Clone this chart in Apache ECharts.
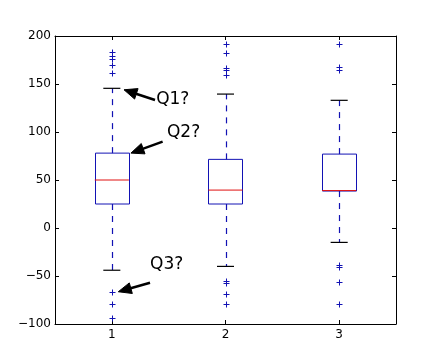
<!DOCTYPE html>
<html>
<head>
<meta charset="utf-8">
<script src="https://cdn.jsdelivr.net/npm/echarts@6/dist/echarts.min.js"></script>
<style>html,body{margin:0;padding:0;background:#fff;}#c{width:440px;height:360px;}</style>
</head>
<body>
<div id="c"></div>
<script>
var categories = [1, 2, 3];
var lowWhisker = [-44, -40, -15];
var q1 = [25, 25, 38.5];
var median = [50, 39.5, 39];
var q3 = [78, 71.5, 77];
var highWhisker = [145.5, 139.5, 133];
var outliers1 = [183, 179, 176, 170, 161, -67, -79.5, -93.5];
var outliers2 = [192, 182, 167, 164.5, 159, -55, -57.5, -69, -79.5];
var outliers3 = [192, 167.5, 165, -39, -41, -56, -79.5];
var yTicks = [-100, -50, 0, 50, 100, 150, 200];
var annotations = [
  {text: 'Q1?', tip: [1.107, 144], tail: [1.38, 133.3], label: [1.39, 133.3]},
  {text: 'Q2?', tip: [1.168, 78], tail: [1.447, 90], label: [1.485, 99]},
  {text: 'Q3?', tip: [1.057, -66.4], tail: [1.336, -57], label: [1.336, -38.5]}
];

var boxData = categories.map(function (c, i) {
  return [c, lowWhisker[i], q1[i], median[i], q3[i], highWhisker[i]];
});
var outlierData = [];
[outliers1, outliers2, outliers3].forEach(function (arr, i) {
  arr.forEach(function (v) { outlierData.push([categories[i], v]); });
});
var annData = annotations.map(function (a) {
  return [a.tip[0], a.tip[1], a.tail[0], a.tail[1], a.label[0], a.label[1], a.text];
});

var BLUE = '#1212b4';
var RED = '#e01010';
var HALF_BOX = 0.15, HALF_CAP = 0.075;

var chart = echarts.init(document.getElementById('c'), null, {renderer: 'canvas'});
var fmt = function (v) { return String(v).replace('-', '\u2212'); };
var axFont = {color: '#000', fontFamily: 'DejaVu Sans', fontSize: 12};
chart.setOption({
  animation: false,
  backgroundColor: '#fff',
  grid: {left: 55, right: 44, top: 36, bottom: 36, containLabel: false},
  xAxis: [{
    type: 'value', min: 0.5, max: 3.5, interval: 0.5, position: 'bottom',
    axisLine: {show: true, onZero: false, lineStyle: {color: '#000', width: 1}},
    axisTick: {show: true, inside: true, length: 4, lineStyle: {color: '#000'},
      customValues: categories},
    axisLabel: Object.assign({margin: 5, customValues: categories, formatter: fmt}, axFont),
    splitLine: {show: false}
  }, {
    type: 'value', min: 0.5, max: 3.5, position: 'top',
    axisLine: {show: true, onZero: false, lineStyle: {color: '#000', width: 1}},
    axisTick: {show: true, inside: true, length: 4, lineStyle: {color: '#000'}, customValues: categories},
    axisLabel: {show: false}, splitLine: {show: false}
  }],
  yAxis: [{
    type: 'value', min: -100, max: 200, interval: 50, position: 'left',
    axisLine: {show: true, onZero: false, lineStyle: {color: '#000', width: 1}},
    axisTick: {show: true, inside: true, length: 4, lineStyle: {color: '#000'}},
    axisLabel: Object.assign({margin: 4, formatter: fmt}, axFont),
    splitLine: {show: false}
  }, {
    type: 'value', min: -100, max: 200, interval: 50, position: 'right',
    axisLine: {show: true, onZero: false, lineStyle: {color: '#000', width: 1}},
    axisTick: {show: true, inside: true, length: 4, lineStyle: {color: '#000'}},
    axisLabel: {show: false}, splitLine: {show: false}
  }],
  series: [{
    type: 'custom',
    data: boxData,
    clip: true,
    renderItem: function (params, api) {
      var x = api.value(0);
      var pLow = api.coord([x, api.value(1)]);
      var pQ1 = api.coord([x, api.value(2)]);
      var pMed = api.coord([x, api.value(3)]);
      var pQ3 = api.coord([x, api.value(4)]);
      var pHigh = api.coord([x, api.value(5)]);
      var xl = api.coord([x - HALF_BOX, 0])[0], xr = api.coord([x + HALF_BOX, 0])[0];
      var cl = api.coord([x - HALF_CAP, 0])[0], cr = api.coord([x + HALF_CAP, 0])[0];
      var cx = Math.round(pLow[0]) + 0.5;
      function ln(x1, y1, x2, y2, style) {
        return {type: 'line', shape: {x1: x1, y1: y1, x2: x2, y2: y2}, style: style};
      }
      var dash = {stroke: BLUE, lineWidth: 1.2, lineDash: [6, 6]};
      var cap = {stroke: '#000', lineWidth: 1.2};
      return {type: 'group', children: [
        ln(cx, pQ3[1], cx, pHigh[1], dash),
        ln(cx, pQ1[1], cx, pLow[1], dash),
        ln(cl, pHigh[1], cr, pHigh[1], cap),
        ln(cl, pLow[1], cr, pLow[1], cap),
        {type: 'rect', shape: {x: Math.round(xl) + 0.5, y: pQ3[1], width: Math.round(xr - xl), height: pQ1[1] - pQ3[1]},
          style: {fill: 'none', stroke: BLUE, lineWidth: 1}},
        ln(xl, pMed[1], xr, pMed[1], {stroke: RED, lineWidth: 1})
      ]};
    }
  }, {
    type: 'custom',
    data: outlierData,
    clip: true,
    renderItem: function (params, api) {
      var p = api.coord([api.value(0), api.value(1)]);
      var s = 3, x = Math.round(p[0]) + 0.5, y = Math.round(p[1]) + 0.5;
      return {type: 'group', children: [
        {type: 'line', shape: {x1: x - s, y1: y, x2: x + s, y2: y}, style: {stroke: BLUE, lineWidth: 1}},
        {type: 'line', shape: {x1: x, y1: y - s, x2: x, y2: y + s}, style: {stroke: BLUE, lineWidth: 1}}
      ]};
    }
  }, {
    type: 'custom',
    data: annData,
    clip: false,
    renderItem: function (params, api) {
      var tip = api.coord([api.value(0), api.value(1)]);
      var tail = api.coord([api.value(2), api.value(3)]);
      var lab = api.coord([api.value(4), api.value(5)]);
      var dx = tip[0] - tail[0], dy = tip[1] - tail[1];
      var L = Math.sqrt(dx * dx + dy * dy);
      var ux = dx / L, uy = dy / L, nx = -uy, ny = ux;
      var hl = 13, hw = 5.5;
      var bx = tip[0] - ux * hl, by = tip[1] - uy * hl;
      return {type: 'group', children: [
        {type: 'line', shape: {x1: tail[0], y1: tail[1], x2: bx + ux * 2, y2: by + uy * 2},
          style: {stroke: '#000', lineWidth: 2.5}},
        {type: 'polygon', shape: {points: [[tip[0], tip[1]], [bx + nx * hw, by + ny * hw], [bx - nx * hw, by - ny * hw]]},
          style: {fill: '#000', stroke: '#000', lineWidth: 1}},
        {type: 'text', x: lab[0], y: lab[1], style: {text: api.value(6), fill: '#000',
          font: '17px "DejaVu Sans"', align: 'left', verticalAlign: 'middle'}}
      ]};
    }
  }]
});
</script>
</body>
</html>
